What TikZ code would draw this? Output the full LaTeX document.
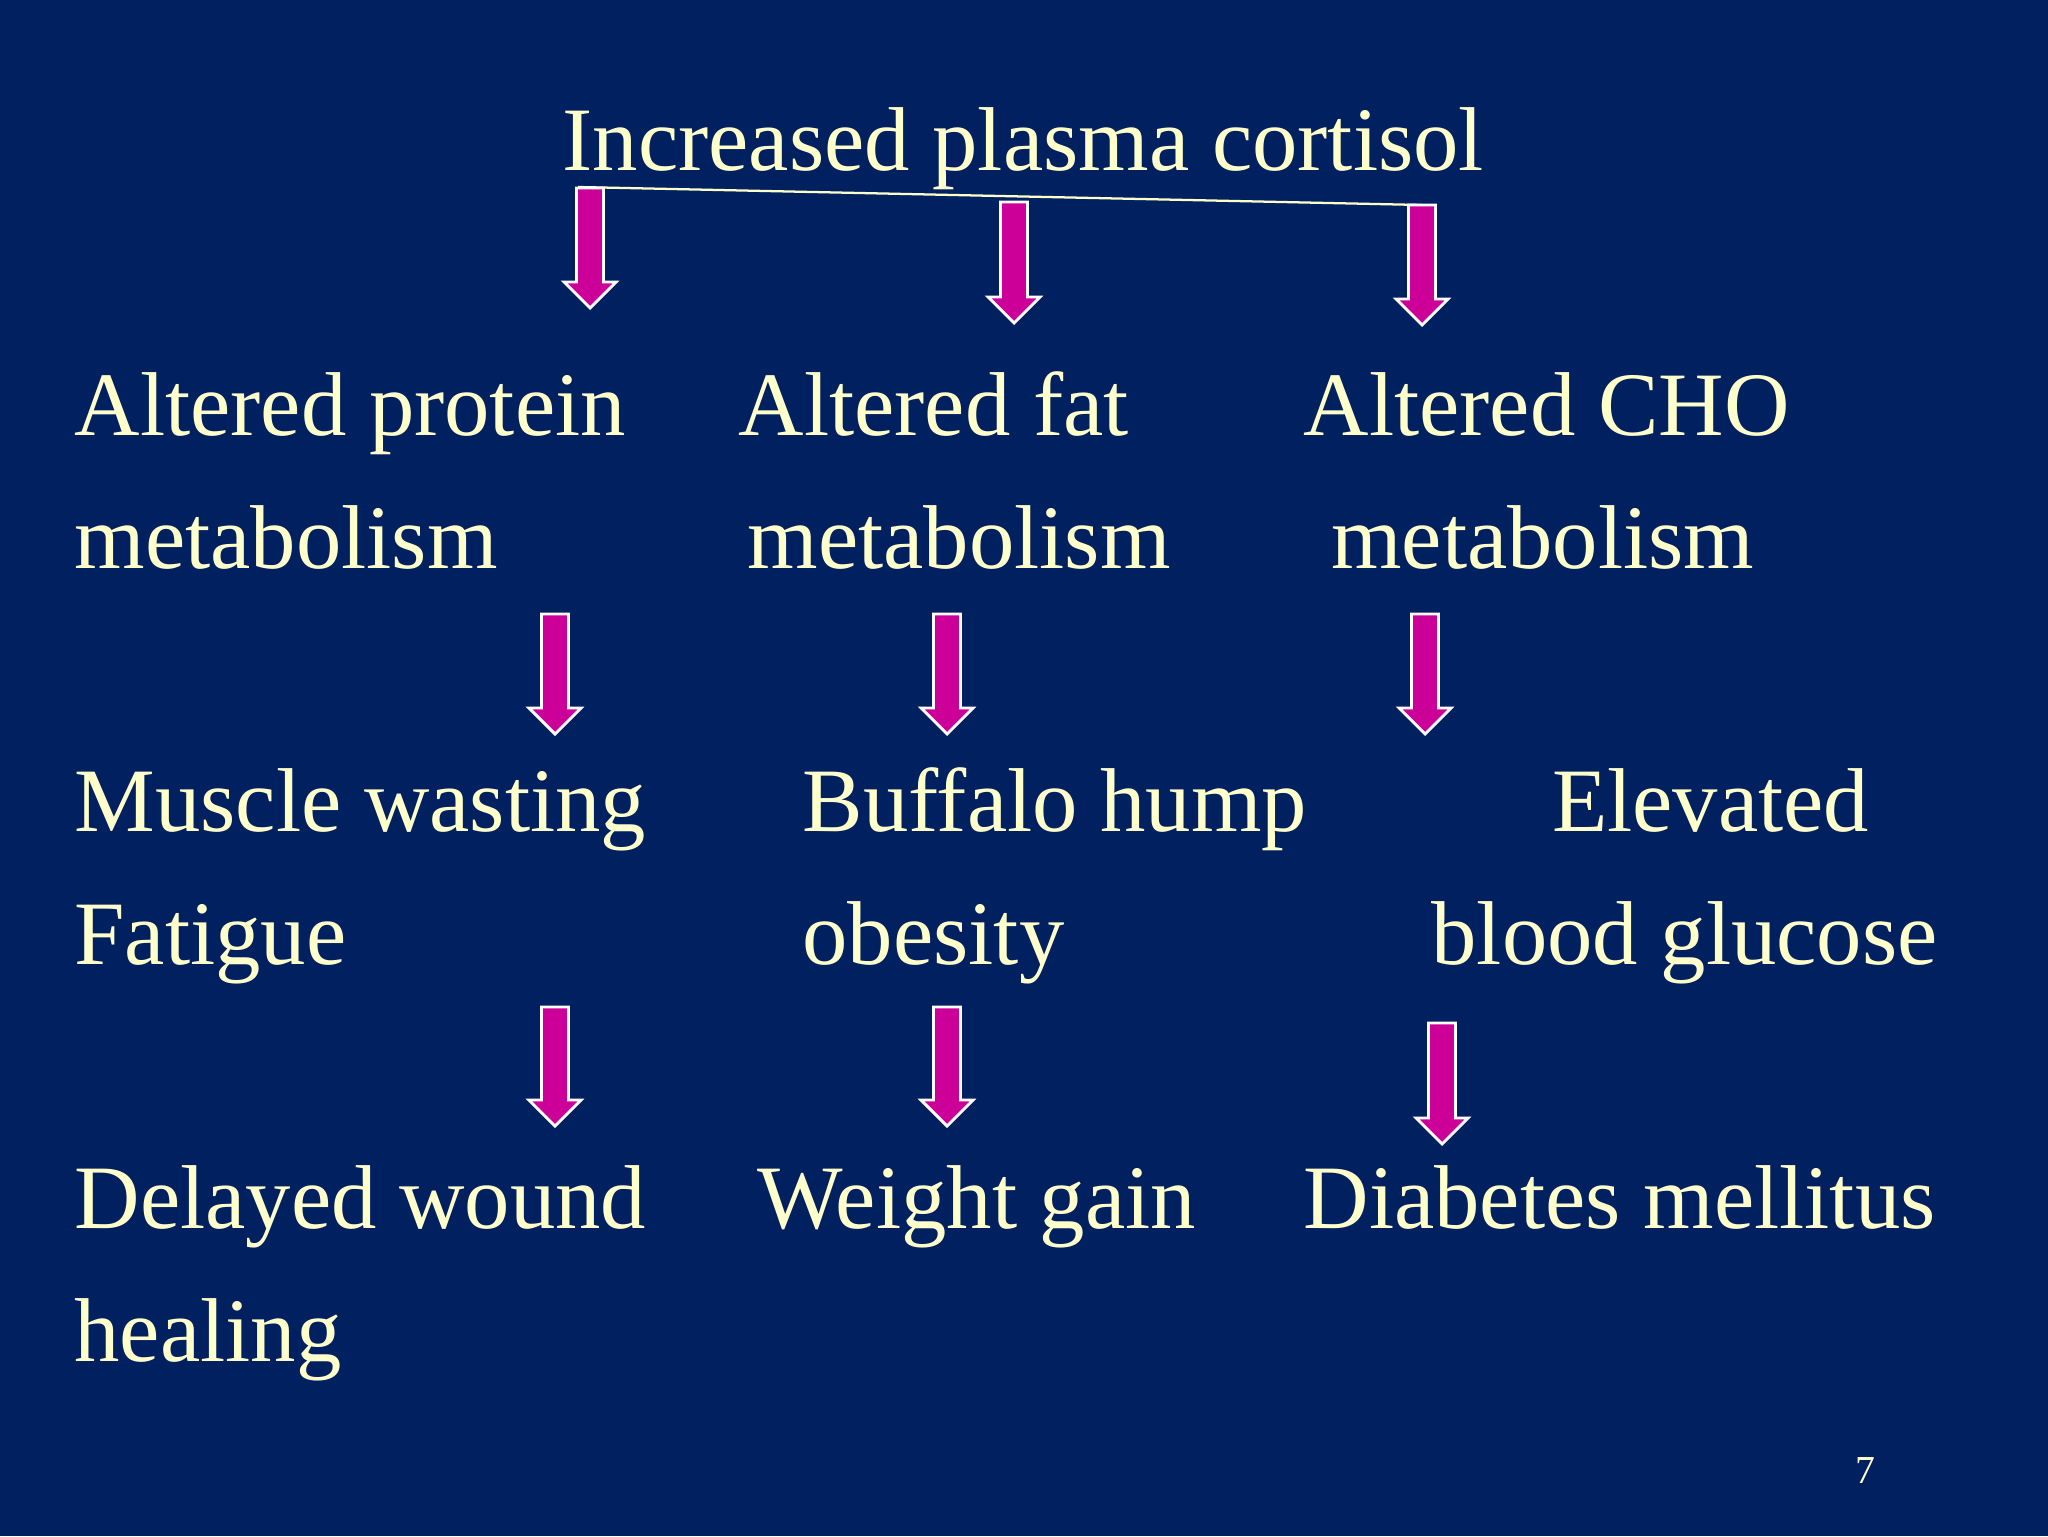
\documentclass[tikz,border=0pt]{standalone}
\usepackage{fontspec}
\setmainfont{Liberation Serif}
\usepackage{tikz}
\usetikzlibrary{positioning}

\definecolor{slidebg}{RGB}{0,32,96}
\definecolor{cream}{RGB}{255,255,204}
\definecolor{magentaarrow}{RGB}{204,0,153}

\tikzset{
    label/.style={anchor=base west, inner sep=0pt, align=left, text=cream,
        font=\fontsize{32}{46.8}\selectfont},
    blockarrow/.style={fill=magentaarrow, draw=white, line width=1pt, line join=miter}
}

\begin{document}
\begin{tikzpicture}[x=0.012402344cm, y=-0.012402344cm]
% Background
\fill[slidebg] (0,0) rectangle (2048,1536);
\useasboundingbox (0,0) rectangle (2048,1536);

% Title
\node[label] (cortisol) at (562,170) {Increased plasma cortisol};

% Fork under the title
\coordinate (forkwest) at (578,187);
\coordinate (forkeast) at (1422,205);
\draw[cream, line width=0.8pt] (forkwest) -- (forkeast);

% Arrows
\foreach \ax/\ytop/\ytip in {590/188/308, 1014/202/323, 1422/205/325,
                            555/614/734, 947/614/734, 1425/614/734,
                            555/1007/1126, 947/1007/1126, 1442/1023/1144} {
    \draw[blockarrow] (\ax-13.5,\ytop) -- (\ax+13.5,\ytop) -- (\ax+13.5,\ytip-26)
        -- (\ax+26,\ytip-26) -- (\ax,\ytip) -- (\ax-26,\ytip-26)
        -- (\ax-13.5,\ytip-26) -- cycle;
}

% Metabolism (base = last line)
\node[label] (protein) at (74,568) {Altered protein\\metabolism};
\node[label] (fat) at (738,568) {Altered fat\\\hspace*{3.2pt}metabolism};
\node[label] (cho) at (1303,568) {Altered CHO\\\hspace*{9.8pt}metabolism};

% Effects
\node[label] (muscle) at (74,964) {Muscle wasting\\Fatigue};
\node[label] (hump) at (802,964) {Buffalo hump\\obesity};
\node[label] (glucose) at (1431,964) {\hspace*{42.5pt}Elevated\\blood glucose};

% Outcomes
\node[label] (wound) at (74,1361) {Delayed wound\\healing};
\node[label] (weight) at (757,1228) {Weight gain};
\node[label] (diabetes) at (1303,1228) {Diabetes mellitus};

% Page number
\node[anchor=base west, inner sep=0pt, text=cream, font=\fontsize{14}{16}\selectfont]
    (page) at (1855,1483) {7};
\end{tikzpicture}
\end{document}
